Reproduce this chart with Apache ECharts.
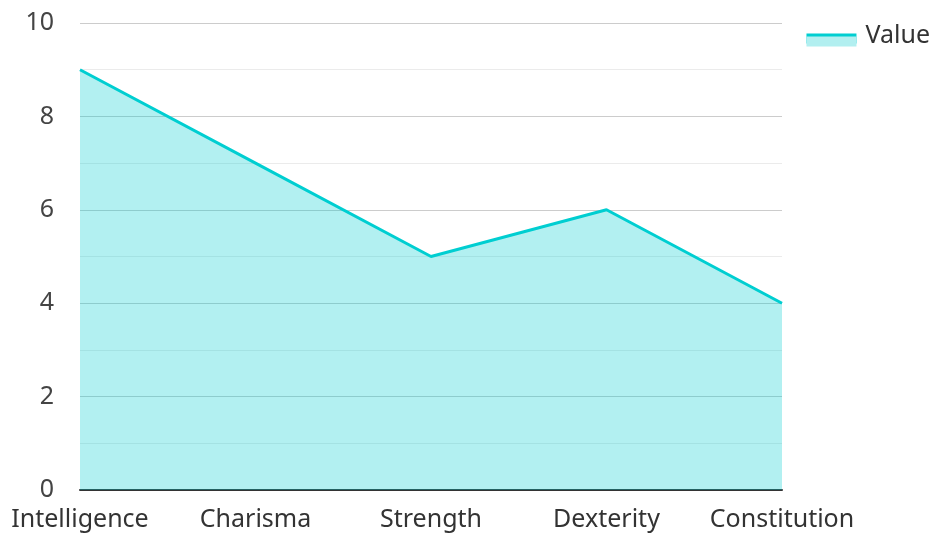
<!DOCTYPE html>
<html>
<head>
<meta charset="utf-8">
<script src="https://cdn.jsdelivr.net/npm/echarts@6/dist/echarts.min.js"></script>
<style>
  html, body { margin: 0; padding: 0; background: #fff; }
  #chart { width: 932px; height: 533px; }
</style>
</head>
<body>
<div id="chart"></div>
<script>
// attributes along the x axis
const categories = ['Intelligence', 'Charisma', 'Strength', 'Dexterity', 'Constitution'];
const values = [9, 7, 5, 6, 4];
const seriesName = 'Value';

const lineColor = '#00ced1';
const fillColor = 'rgba(0, 206, 209, 0.3)';

const chart = echarts.init(document.getElementById('chart'));

// legend swatch: band sitting in the lower part of the icon box (tiny dot keeps the top bound)
const legendIcon = 'path://M0,0h0.01v0.01h-0.01Z M0,12H50V22H0Z';

const option = {
  animation: false,
  textStyle: { fontFamily: 'Noto Sans' },
  grid: { left: 80, right: 150, top: 23, bottom: 43 },
  legend: {
    data: [seriesName],
    right: -3,
    top: 18,
    itemWidth: 50,
    itemHeight: 22,
    icon: legendIcon,
    itemStyle: {
      color: '#b2eff0',
      shadowColor: lineColor,
      shadowOffsetY: -3,
      shadowBlur: 0,
    },
    textStyle: { fontSize: 25, color: '#333', fontFamily: 'Noto Sans', padding: [0, 0, 0, 4] },
  },
  xAxis: {
    type: 'category',
    boundaryGap: false,
    data: categories,
    axisLine: { lineStyle: { color: '#333', width: 2 } },
    axisTick: { show: false },
    axisLabel: { interval: 0, fontSize: 25, color: '#333', margin: 17, fontFamily: 'Noto Sans' },
  },
  yAxis: {
    type: 'value',
    min: 0,
    max: 10,
    interval: 2,
    axisLine: { show: false },
    axisTick: { show: false },
    axisLabel: { fontSize: 25, color: '#444', margin: 26, fontFamily: 'Noto Sans' },
    splitLine: { lineStyle: { color: '#cccccc', width: 1 } },
    minorTick: { show: false, splitNumber: 2 },
    minorSplitLine: { show: true, lineStyle: { color: '#ebebeb', width: 1 } },
  },
  series: [
    {
      name: seriesName,
      type: 'line',
      data: values,
      showSymbol: false,
      symbol: 'none',
      lineStyle: { color: lineColor, width: 3 },
      itemStyle: { color: lineColor },
      areaStyle: { color: fillColor, opacity: 1 },
    },
  ],
};

chart.setOption(option);
</script>
</body>
</html>
